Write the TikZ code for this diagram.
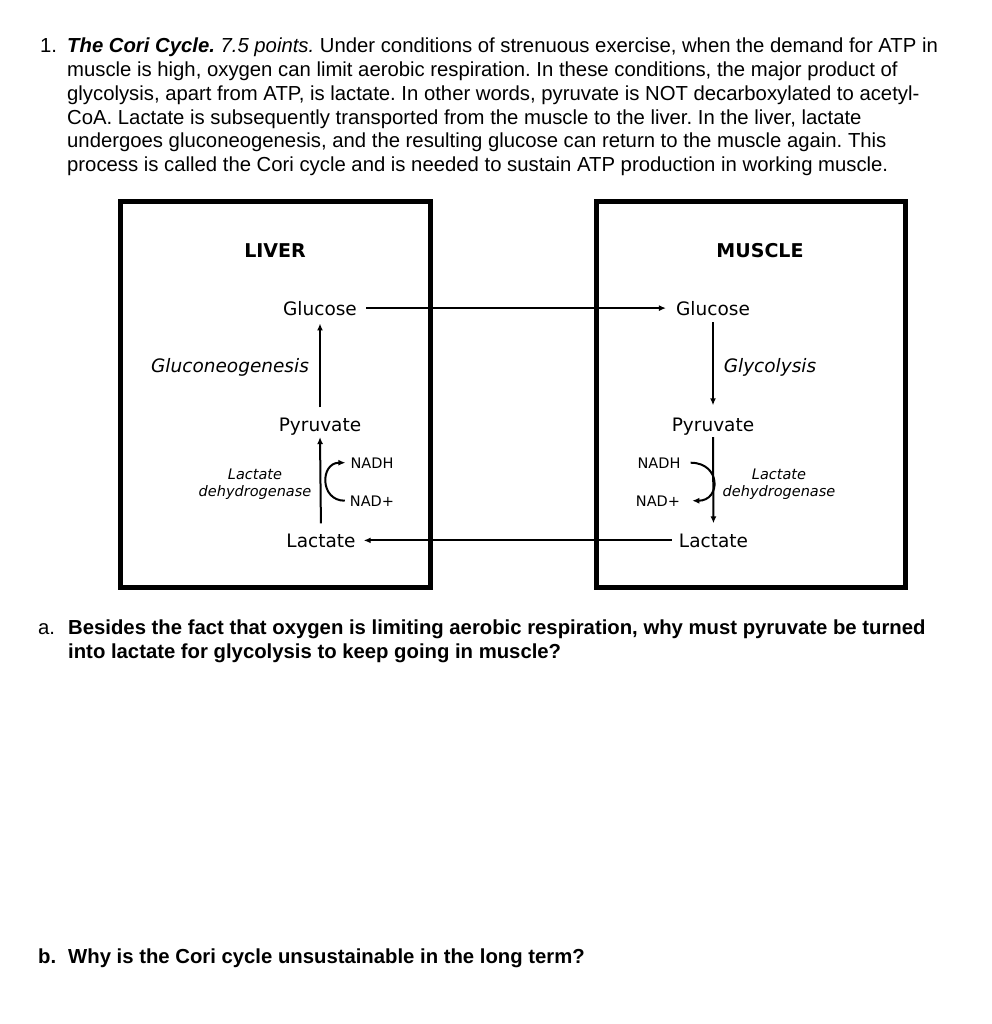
\documentclass[tikz,border=0pt]{standalone}
\usepackage{fontspec}
\setmainfont{Liberation Sans}
\newfontfamily\boxfont{DejaVu Sans}
\usetikzlibrary{arrows.meta, positioning}

\tikzset{
  bodyline/.style={anchor=base west, inner sep=0pt, font=\fontsize{20.3}{23.8}\selectfont},
  boxlabel/.style={anchor=base, inner sep=2pt, font=\boxfont\fontsize{18.5}{22}\selectfont},
  smalllabel/.style={inner sep=2pt, font=\boxfont\fontsize{14.5}{17}\selectfont},
  flow/.style={line width=2pt, -{Latex[length=7pt,width=6pt]}},
  cell/.style={line width=5pt},
}
\frenchspacing

\begin{document}
\begin{tikzpicture}[x=1pt,y=-1pt]
  \useasboundingbox (0,0) rectangle (991,1024);
  % Question text
  \node[bodyline] (num) at (40,53) {1.};
  \node[bodyline] (l1) at (67,53) {\textbf{\textit{The Cori Cycle.}} \textit{7.5 points.} Under conditions of strenuous exercise, when the demand for ATP in};
  \node[bodyline] (l2) at (67,77) {muscle is high, oxygen can limit aerobic respiration. In these conditions, the major product of};
  \node[bodyline] (l3) at (67,101) {glycolysis, apart from ATP, is lactate. In other words, pyruvate is NOT decarboxylated to acetyl-};
  \node[bodyline] (l4) at (67,125) {CoA. Lactate is subsequently transported from the muscle to the liver. In the liver, lactate};
  \node[bodyline] (l5) at (67,148) {undergoes gluconeogenesis, and the resulting glucose can return to the muscle again. This};
  \node[bodyline] (l6) at (67,172) {process is called the Cori cycle and is needed to sustain ATP production in working muscle.};

  % Boxes
  \draw[cell] (120,202) rectangle (430,587);
  \draw[cell] (596,202) rectangle (905,587);

  % Liver
  \node[boxlabel, font=\boxfont\bfseries\fontsize{19}{22}\selectfont] (liver) at (275,257) {LIVER};
  \node[boxlabel] (liverGlc) at (320,315) {Glucose};
  \node[boxlabel, font=\boxfont\itshape\fontsize{18.5}{22}\selectfont] (gng) at (230,372) {Gluconeogenesis};
  \node[boxlabel] (liverPyr) at (320,431) {Pyruvate};
  \node[boxlabel] (liverLac) at (321,547) {Lactate};
  \node[smalllabel, anchor=base] (liverNADH) at (372,468) {NADH};
  \node[smalllabel, anchor=base] (liverNADp) at (372,506) {NAD+};
  \node[smalllabel, align=center, font=\boxfont\itshape\fontsize{14.5}{17}\selectfont] (liverLDH) at (255,484) {Lactate\\dehydrogenase};

  % Muscle
  \node[boxlabel, font=\boxfont\bfseries\fontsize{19}{22}\selectfont] (muscle) at (760,257) {MUSCLE};
  \node[boxlabel] (muscGlc) at (713,315) {Glucose};
  \node[boxlabel, font=\boxfont\itshape\fontsize{18.5}{22}\selectfont] (glyc) at (770,372) {Glycolysis};
  \node[boxlabel] (muscPyr) at (713,431) {Pyruvate};
  \node[boxlabel] (muscLac) at (713.5,547) {Lactate};
  \node[smalllabel, anchor=base] (muscNADH) at (659,468) {NADH};
  \node[smalllabel, anchor=base] (muscNADp) at (658,506) {NAD+};
  \node[smalllabel, align=center, font=\boxfont\itshape\fontsize{14.5}{17}\selectfont] (muscLDH) at (779,484) {Lactate\\dehydrogenase};

  % Pathway arrows
  \draw[flow, shorten <=8pt, shorten >=6pt] (liverPyr.north) -- (liverGlc.south);
  \draw[flow, shorten <=8pt] (liverLac.north) -- (liverPyr.south);
  \draw[flow, shorten <=5pt, shorten >=10pt] (muscGlc.south) -- (muscPyr.north);
  \draw[flow, shorten >=8pt] (muscPyr.south) -- (muscLac.north);
  % Transport between organs
  \draw[flow, shorten <=7pt, shorten >=8pt] (liverGlc.east) -- (muscGlc.west);
  \draw[flow, shorten <=5pt, shorten >=6pt] (muscLac.west) -- (liverLac.east);
  % Cofactors
  \draw[flow, shorten <=3pt, shorten >=3pt] (liverNADp.west) to[out=180, in=180, looseness=1.9] (liverNADH.west);
  \draw[flow, shorten <=8pt, shorten >=10pt] (muscNADH.east) to[out=0, in=0, looseness=2.6] (muscNADp.east);

  % Questions
  \node[bodyline] (qa) at (38,634) {a.};
  \node[bodyline, font=\bfseries\fontsize{20.3}{23.8}\selectfont] (qa1) at (68,634) {Besides the fact that oxygen is limiting aerobic respiration, why must pyruvate be turned};
  \node[bodyline, font=\bfseries\fontsize{20.3}{23.8}\selectfont] (qa2) at (68,658) {into lactate for glycolysis to keep going in muscle?};
  \node[bodyline, font=\bfseries\fontsize{20.3}{23.8}\selectfont] (qb) at (38,963) {b.};
  \node[bodyline, font=\bfseries\fontsize{20.3}{23.8}\selectfont] (qb1) at (68,963) {Why is the Cori cycle unsustainable in the long term?};
\end{tikzpicture}
\end{document}
